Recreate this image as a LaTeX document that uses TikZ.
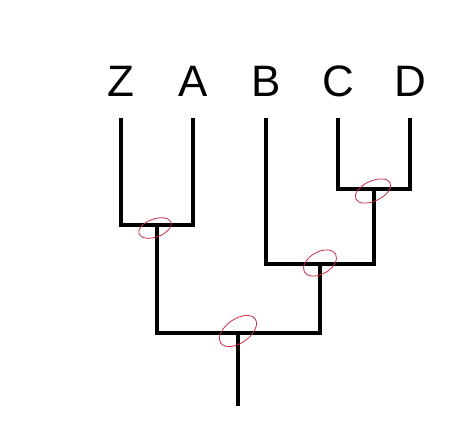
\documentclass[tikz,border=0pt]{standalone}
\usepackage{fontspec}
\setmainfont{Liberation Sans}
\definecolor{markred}{RGB}{200,45,70}
\begin{document}
\begin{tikzpicture}[x=1pt,y=-1pt,
                    line width=3.5pt,
                    taxon node/.style={inner sep=0pt,outer sep=0pt,anchor=base,font=\fontsize{44}{44}\selectfont},
                    branch/.style={shorten <=21pt},
                    loop mark/.style={draw=markred,line width=0.8pt}]
    \useasboundingbox (0,0) rectangle (474,430);

    % Define taxa
    \node[taxon node] (Z) at (121,97) {Z};
    \node[taxon node] (A) at (193,97) {A};
    \node[taxon node] (B) at (266,97) {B};
    \node[taxon node] (C) at (338,97) {C};
    \node[taxon node] (D) at (410,97) {D};

    % Define inner vertices
    \coordinate (ZA) at (157,225);
    \coordinate (CD) at (374,189);
    \coordinate (BCD) at (320,264);
    \coordinate (R) at (238,333);
    \coordinate (base) at (238,406);

    % Draw branches
    \draw[branch,shorten >=21pt] (Z.south) -- (Z.south |- ZA) -- (A.south |- ZA) -- (A.south);
    \draw[branch,shorten >=21pt] (C.south) -- (C.south |- CD) -- (D.south |- CD) -- (D.south);
    \draw[branch] (B.south) -- (B.south |- BCD) -- (CD |- BCD) -- (CD);
    \draw (ZA) |- (R) -| (BCD);
    \draw (R) -- (base);

    % Mark nodes
    \draw[loop mark,rotate around={20:(155,228)}] (155,228) ellipse [x radius=17,y radius=9];
    \draw[loop mark,rotate around={25:(373,191)}] (373,191) ellipse [x radius=19,y radius=10];
    \draw[loop mark,rotate around={30:(320,263)}] (320,263) ellipse [x radius=18,y radius=11];
    \draw[loop mark,rotate around={35:(238,331)}] (238,331) ellipse [x radius=21,y radius=12];

    \end{tikzpicture}
\end{document}
